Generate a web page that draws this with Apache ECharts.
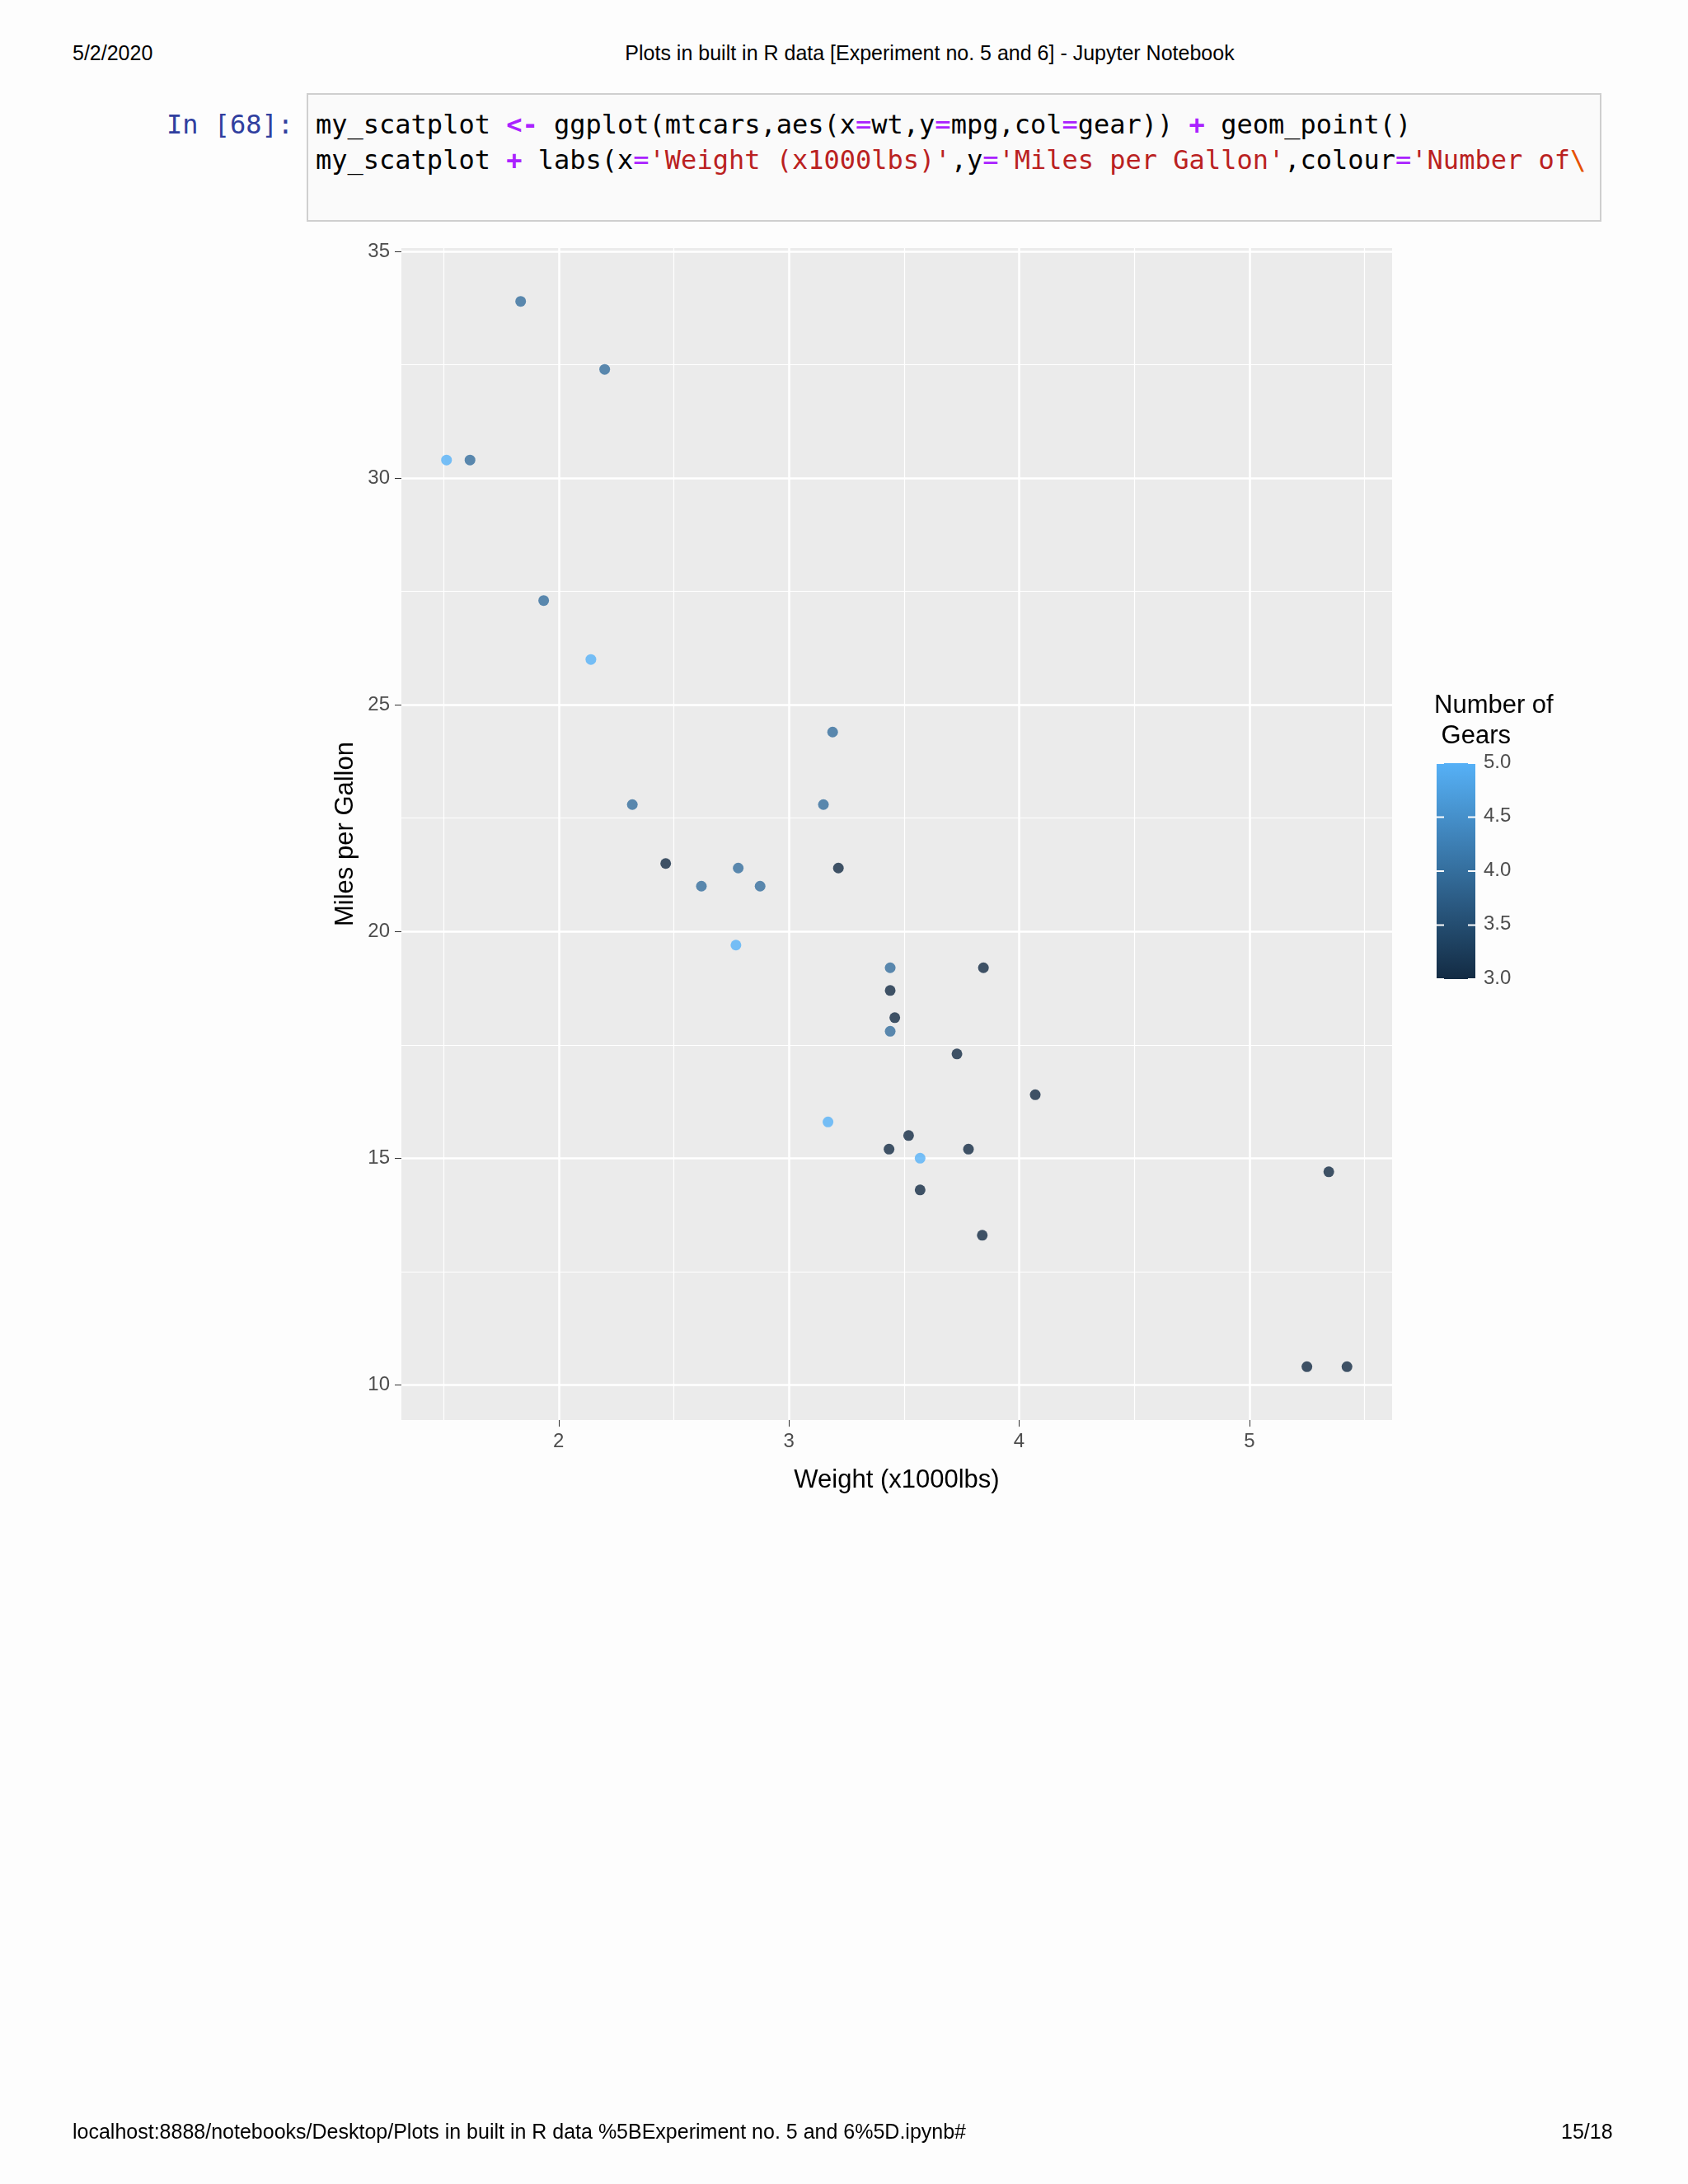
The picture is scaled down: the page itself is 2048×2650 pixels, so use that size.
<!DOCTYPE html>
<html>
<head>
<meta charset="utf-8">
<script src="https://cdn.jsdelivr.net/npm/echarts@6/dist/echarts.min.js"></script>
<style>
  body { margin:0; width:2048px; height:2650px; background:#fdfdfd; position:relative; font-family:"Liberation Sans", Arial, sans-serif; }
  .t { position:absolute; font-size:25px; color:#000; white-space:pre; }
  .code { position:absolute; font-family:"DejaVu Sans Mono", monospace; font-size:32px; line-height:43px; white-space:pre; color:#000; }
  #main { position:absolute; left:0; top:0; width:2048px; height:2650px; }
</style>
</head>
<body>
<div class="t" style="left:88px;top:50px;">5/2/2020</div>
<div class="t" style="left:0;width:2256px;top:50px;text-align:center;">Plots in built in R data [Experiment no. 5 and 6] - Jupyter Notebook</div>
<div class="code" style="left:202px;top:130px;color:#303f9f;">In [68]:</div>
<div style="position:absolute;left:372px;top:113px;width:1567px;height:152px;border:2px solid #cfcfcf;background:#fafafa;"></div>
<div class="code" style="left:383px;top:130px;">my_scatplot <span style="color:#aa22ff;font-weight:bold">&lt;-</span> ggplot(mtcars,aes(x<span style="color:#aa22ff">=</span>wt,y<span style="color:#aa22ff">=</span>mpg,col<span style="color:#aa22ff">=</span>gear)) <span style="color:#aa22ff;font-weight:bold">+</span> geom_point()
my_scatplot <span style="color:#aa22ff;font-weight:bold">+</span> labs(x<span style="color:#aa22ff">=</span><span style="color:#ba2121">'Weight (x1000lbs)'</span>,y<span style="color:#aa22ff">=</span><span style="color:#ba2121">'Miles per Gallon'</span>,colour<span style="color:#aa22ff">=</span><span style="color:#ba2121">'Number of</span><span style="color:#e65100">\</span></div>
<div id="main"></div>
<div class="t" style="left:88px;top:2572px;">localhost:8888/notebooks/Desktop/Plots in built in R data %5BExperiment no. 5 and 6%5D.ipynb#</div>
<div class="t" style="left:1894px;top:2572px;">15/18</div>
<script>
// mtcars: weight, mpg, gear
var wt = [2.620,2.875,2.320,3.215,3.440,3.460,3.570,3.190,3.150,3.440,3.440,4.070,3.730,3.780,5.250,5.424,5.345,2.200,1.615,1.835,2.465,3.520,3.435,3.840,3.845,1.935,2.140,1.513,3.170,2.770,3.570,2.780];
var mpg = [21.0,21.0,22.8,21.4,18.7,18.1,14.3,24.4,22.8,19.2,17.8,16.4,17.3,15.2,10.4,10.4,14.7,32.4,30.4,33.9,21.5,15.5,15.2,13.3,19.2,27.3,26.0,30.4,15.8,19.7,15.0,21.4];
var gear = [4,4,4,3,3,3,3,4,4,4,4,3,3,3,3,3,3,4,4,4,3,3,3,3,3,4,5,5,5,5,5,4];
var xTicks = [2,3,4,5];
var xMinor = [1.5,2.5,3.5,4.5,5.5];
var yTicks = [10,15,20,25,30,35];
var yMinor = [12.5,17.5,22.5,27.5,32.5];
var gearTicks = [3.0,3.5,4.0,4.5,5.0];

var pts = wt.map(function(w,i){ return [w, mpg[i], gear[i]]; });
var chart = echarts.init(document.getElementById('main'));

var barTop = 926, barH = 262, barX = 1743, barW = 47;
var legendGraphics = [{type:'rect', shape:{x:barX, y:barTop, width:barW, height:barH},
  style:{fill:new echarts.graphic.LinearGradient(0,0,0,1,[{offset:0,color:'#56B1F7'},{offset:1,color:'#132B43'}])}}];
gearTicks.forEach(function(g){
  var y = barTop + barH * (5 - g) / 2;
  legendGraphics.push({type:'text', left:1800, top:y-13, style:{text:g.toFixed(1), font:'24px "Liberation Sans"', fill:'#4d4d4d'}});
  legendGraphics.push({type:'rect', shape:{x:barX, y:y-1, width:9, height:2}, style:{fill:'#fff'}, z:100});
  legendGraphics.push({type:'rect', shape:{x:barX+barW-9, y:y-1, width:9, height:2}, style:{fill:'#fff'}, z:100});
});
legendGraphics.push({type:'text', left:1740, top:838, style:{text:'Number of\n Gears', font:'31px "Liberation Sans"', fill:'#000', lineHeight:37}});

function gridLines(axis, vals, w){
  return vals.map(function(v){ var o={}; o[axis]=v; o.lineStyle={color:'#fff', width:w, type:'solid'}; return o; });
}

chart.setOption({
  animation:false,
  grid:{left:487, top:301, width:1202, height:1422, show:true, backgroundColor:'#ebebeb', borderWidth:0},
  xAxis:{type:'value', min:1.317, max:5.620, name:'Weight (x1000lbs)', nameLocation:'middle', nameGap:58,
    nameTextStyle:{fontSize:31, color:'#000', fontFamily:'Liberation Sans'},
    axisLine:{show:false}, splitLine:{show:false},
    axisTick:{show:true, customValues:xTicks, length:8, lineStyle:{color:'#333'}},
    axisLabel:{customValues:xTicks, fontSize:24, color:'#4d4d4d', margin:14}},
  yAxis:{type:'value', min:9.225, max:35.075, name:'Miles per Gallon', nameLocation:'middle', nameGap:52, nameRotate:90,
    nameTextStyle:{fontSize:31, color:'#000', fontFamily:'Liberation Sans'},
    axisLine:{show:false}, splitLine:{show:false},
    axisTick:{show:true, customValues:yTicks, length:8, lineStyle:{color:'#333'}},
    axisLabel:{customValues:yTicks, fontSize:24, color:'#4d4d4d', margin:14}},
  visualMap:{type:'continuous', show:false, min:3, max:5, dimension:2, seriesIndex:0,
    inRange:{color:['#132B43','#56B1F7']}},
  graphic:legendGraphics,
  series:[
    {type:'scatter', data:pts, symbolSize:13, z:5,
     markLine:{silent:true, symbol:['none','none'], label:{show:false}, animation:false,
       data:[].concat(gridLines('xAxis', xMinor, 1.2), gridLines('yAxis', yMinor, 1.2),
                      gridLines('xAxis', xTicks, 2.5), gridLines('yAxis', yTicks, 2.5))}}
  ]
});
</script>
</body>
</html>
